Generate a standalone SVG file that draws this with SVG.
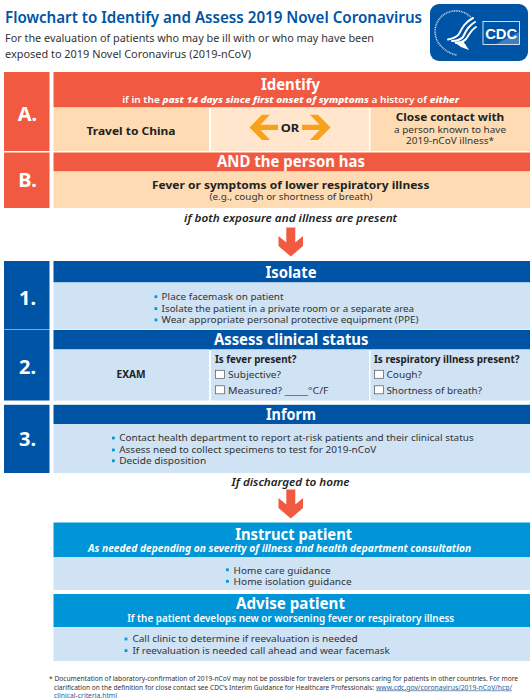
<svg xmlns="http://www.w3.org/2000/svg" width="530" height="699" viewBox="0 0 530 699">
<style>
text{font-family:"Noto Sans","Open Sans","Liberation Sans",sans-serif;fill:#333}
.m{text-anchor:middle}
.h{font-weight:700;fill:#fff;font-size:15.500px}
.l{font-weight:700;fill:#fff;font-size:20px;text-anchor:middle}
.b{font-size:9.200px}
.d{fill:#0099d8}
.red{fill:#f15a40}.blue{fill:#0054a6}.cy{fill:#0095d6}.lb{fill:#cfe3f4}.pe{fill:#fedbb2}.pl{fill:#ffe6cc}
.cb{fill:#fff;stroke:#555;stroke-width:.7}
.k{font-weight:700;fill:#222}
.or{fill:#f9a11b}
.w{stroke:#fff;fill:none;stroke-linecap:round}
</style>
<defs>
<path id="dn" class="red" d="M286.300 0H295.300V15L303 8.500V18.500L290.800 29L278.500 18.500V8.500L286.300 15Z"/>
</defs>
<g id="header">
<text x="5" y="23" font-size="16.300" font-weight="600" style="fill:#0054a6" textLength="417" lengthAdjust="spacingAndGlyphs">Flowchart to Identify and Assess 2019 Novel Coronavirus</text>
<text x="5" y="42" font-size="10.200" textLength="369" lengthAdjust="spacingAndGlyphs">For the evaluation of patients who may be ill with or who may have been</text>
<text x="5" y="58" font-size="10.200" textLength="246" lengthAdjust="spacingAndGlyphs">exposed to 2019 Novel Coronavirus (2019-nCoV)</text>
</g>
<g id="logo">
<rect x="430" y="4" width="98" height="57" rx="9" fill="#0054a6"/>
<path d="M470.500 17A20 20 0 0 0 441 46Q447 53 457 55" fill="none" stroke="#fff" stroke-width="1.600" stroke-dasharray="1 .7" opacity=".75"/>
<path class="w" stroke-width="2" d="M473 18C465 22 462 28 459 34Q456 38 448 39.500"/>
<path class="w" stroke-width="2" d="M475 22C468 26 466 31 463 37Q459 41 452 41"/>
<path class="w" stroke-width="2" d="M476 27C471 30 469 35 466 39Q462 43 456 43"/>
<path d="M454 42L463 41L469 50L461 47Z" fill="#fff"/>
<rect x="483" y="21.500" width="36.500" height="23" fill="none" stroke="#fff" stroke-width=".8"/>
<path d="M495 44.500L519.500 32V44.500Z" fill="#fff" opacity=".25"/>
<text x="501.200" y="38.500" class="m" font-size="15.500" font-weight="700" style="fill:#fff;font-family:'Liberation Sans',sans-serif" textLength="32" lengthAdjust="spacingAndGlyphs">CDC</text>
</g>
<g id="node-a">
<rect class="red" x="4" y="72" width="45.500" height="79"/>
<text class="l" x="27.500" y="120.500">A.</text>
<rect class="red" x="53.500" y="72" width="476.500" height="35.500"/>
<text class="h m" x="290.500" y="90" textLength="59" lengthAdjust="spacingAndGlyphs">Identify</text>
<text class="m" x="290.700" y="102.500" font-size="9.500" font-weight="600" style="fill:#fff" textLength="337" lengthAdjust="spacingAndGlyphs">if in the <tspan font-weight="800" font-style="italic">past 14 days since first onset of symptoms</tspan> a history of <tspan font-weight="800" font-style="italic">either</tspan></text>
<rect class="pe" x="53.500" y="107.500" width="155.500" height="43.500"/>
<rect class="pl" x="211" y="107.500" width="158" height="43.500"/>
<rect class="pe" x="370.500" y="107.500" width="159.500" height="43.500"/>
<text class="k m" x="131" y="134.800" font-size="10.800" textLength="89" lengthAdjust="spacingAndGlyphs">Travel to China</text>
<text class="k m" x="290" y="131.700" font-size="10.800" textLength="18.500" lengthAdjust="spacingAndGlyphs">OR</text>
<text class="k m" x="450" y="121" font-size="10.200" textLength="108.500" lengthAdjust="spacingAndGlyphs">Close contact with</text>
<text class="m" x="450" y="133" font-size="8.800" textLength="112" lengthAdjust="spacingAndGlyphs">a person known to have</text>
<text class="m" x="450" y="144.300" font-size="8.800" textLength="88" lengthAdjust="spacingAndGlyphs">2019-nCoV illness*</text>
</g>
<g id="node-b">
<rect class="red" x="4" y="152.500" width="45.500" height="55.500"/>
<text class="l" x="27.500" y="187.400">B.</text>
<rect class="red" x="53.500" y="152.500" width="476.500" height="19"/>
<text class="h m" x="291" y="167" textLength="148" lengthAdjust="spacingAndGlyphs">AND the person has</text>
<rect class="pe" x="53.500" y="171.500" width="476.500" height="36.500"/>
<text class="k m" x="290.700" y="188.500" font-size="10.200" textLength="277.500" lengthAdjust="spacingAndGlyphs">Fever or symptoms of lower respiratory illness</text>
<text class="m" x="291" y="200" font-size="8.800" textLength="163" lengthAdjust="spacingAndGlyphs">(e.g., cough or shortness of breath)</text>
</g>
<text id="cond-1" class="m" x="290.600" y="222.400" font-size="10.500" font-weight="600" font-style="italic" textLength="213" lengthAdjust="spacingAndGlyphs" style="fill:#222">if both exposure and illness are present</text>
<g id="node-1">
<rect class="blue" x="4" y="261" width="45.500" height="68.500"/>
<text class="l" x="27.500" y="304.600">1.</text>
<rect class="blue" x="53.500" y="261" width="476.500" height="21.500"/>
<text class="h m" x="291" y="278" textLength="51" lengthAdjust="spacingAndGlyphs">Isolate</text>
<rect class="lb" x="53.500" y="282.500" width="476.500" height="47"/>
<rect class="d" x="154.500" y="295.300" width="2.800" height="2.800"/><text class="b" x="161.600" y="300.200" textLength="122" lengthAdjust="spacingAndGlyphs">Place facemask on patient</text>
<rect class="d" x="154.500" y="307.200" width="2.800" height="2.800"/><text class="b" x="161.600" y="311.700" textLength="252.500" lengthAdjust="spacingAndGlyphs">Isolate the patient in a private room or a separate area</text>
<rect class="d" x="154.500" y="318.500" width="2.800" height="2.800"/><text class="b" x="161.600" y="323.300" textLength="257" lengthAdjust="spacingAndGlyphs">Wear appropriate personal protective equipment (PPE)</text>
</g>
<g id="node-2">
<rect class="blue" x="4" y="330" width="45.500" height="70.500"/>
<text class="l" x="27.500" y="374">2.</text>
<rect class="blue" x="53.500" y="330" width="476.500" height="19.500"/>
<text class="h m" x="291.200" y="345.400" textLength="154.500" lengthAdjust="spacingAndGlyphs">Assess clinical status</text>
<rect class="lb" x="53.500" y="349.500" width="155.500" height="51"/>
<rect class="lb" x="211" y="349.500" width="158" height="51"/>
<rect class="lb" x="370.500" y="349.500" width="159.500" height="51"/>
<text class="k m" x="131" y="378.300" font-size="9.800" textLength="29" lengthAdjust="spacingAndGlyphs">EXAM</text>
<text class="k" x="215" y="363" font-size="9.800" textLength="81.500" lengthAdjust="spacingAndGlyphs">Is fever present?</text>
<rect class="cb" x="215.500" y="370.300" width="9" height="8"/><text class="b" x="228" y="378.300" textLength="53" lengthAdjust="spacingAndGlyphs">Subjective?</text>
<rect class="cb" x="215.500" y="385.800" width="9" height="8"/><text class="b" x="228" y="394" textLength="100.500" lengthAdjust="spacingAndGlyphs">Measured? _____°C/F</text>
<text class="k" x="374" y="363" font-size="9.800" textLength="145.500" lengthAdjust="spacingAndGlyphs">Is respiratory illness present?</text>
<rect class="cb" x="374.500" y="370.300" width="9" height="8"/><text class="b" x="386.400" y="378.300" textLength="35.600" lengthAdjust="spacingAndGlyphs">Cough?</text>
<rect class="cb" x="374.500" y="385.800" width="9" height="8"/><text class="b" x="386.400" y="394" textLength="95.600" lengthAdjust="spacingAndGlyphs">Shortness of breath?</text>
</g>
<g id="node-3">
<rect class="blue" x="4" y="404.800" width="45.500" height="68.200"/>
<text class="l" x="27.500" y="445.500">3.</text>
<rect class="blue" x="53.500" y="404.800" width="476.500" height="19.200"/>
<text class="h m" x="291" y="420" textLength="50" lengthAdjust="spacingAndGlyphs">Inform</text>
<rect class="lb" x="53.500" y="424" width="476.500" height="49"/>
<rect class="d" x="112" y="436.600" width="2.800" height="2.800"/><text class="b" x="119.200" y="441" textLength="354.500" lengthAdjust="spacingAndGlyphs">Contact health department to report at-risk patients and their clinical status</text>
<rect class="d" x="112" y="448.600" width="2.800" height="2.800"/><text class="b" x="119.200" y="452.700" textLength="257" lengthAdjust="spacingAndGlyphs">Assess need to collect specimens to test for 2019-nCoV</text>
<rect class="d" x="112" y="459.400" width="2.800" height="2.800"/><text class="b" x="119.200" y="464.200" textLength="87" lengthAdjust="spacingAndGlyphs">Decide disposition</text>
</g>
<text id="cond-2" class="m" x="290.600" y="486" font-size="10.500" font-weight="600" font-style="italic" textLength="118" lengthAdjust="spacingAndGlyphs" style="fill:#222">If discharged to home</text>
<g id="node-instruct">
<rect class="cy" x="53.500" y="522.500" width="476.500" height="34.800"/>
<text class="h m" x="293.700" y="540" textLength="117" lengthAdjust="spacingAndGlyphs">Instruct patient</text>
<text class="m" x="279.600" y="552.400" font-size="9.800" font-weight="700" font-style="italic" style="fill:#fff" textLength="383" lengthAdjust="spacingAndGlyphs">As needed depending on severity of illness and health department consultation</text>
<rect class="lb" x="53.500" y="557.300" width="476.500" height="32.700"/>
<rect class="d" x="226" y="568.400" width="2.800" height="2.800"/><text class="b" x="233.600" y="573.500" textLength="97" lengthAdjust="spacingAndGlyphs">Home care guidance</text>
<rect class="d" x="226" y="579.900" width="2.800" height="2.800"/><text class="b" x="233.600" y="585" textLength="118" lengthAdjust="spacingAndGlyphs">Home isolation guidance</text>
</g>
<g id="node-advise">
<rect class="cy" x="53.500" y="594" width="476.500" height="33"/>
<text class="h m" x="290.500" y="609" textLength="109" lengthAdjust="spacingAndGlyphs">Advise patient</text>
<text class="m" x="290.700" y="622.400" font-size="9.800" font-weight="600" style="fill:#fff" textLength="327" lengthAdjust="spacingAndGlyphs">If the patient develops new or worsening fever or respiratory illness</text>
<rect class="lb" x="53.500" y="627" width="476.500" height="34"/>
<rect class="d" x="124.600" y="637.600" width="2.800" height="2.800"/><text class="b" x="132.400" y="642.400" textLength="225.200" lengthAdjust="spacingAndGlyphs">Call clinic to determine if reevaluation is needed</text>
<rect class="d" x="124.600" y="649.200" width="2.800" height="2.800"/><text class="b" x="132.400" y="654" textLength="257.400" lengthAdjust="spacingAndGlyphs">If reevaluation is needed call ahead and wear facemask</text>
</g>
<g id="footnote" font-size="6.500">
<text x="49" y="680.500" textLength="469" lengthAdjust="spacingAndGlyphs">* Documentation of laboratory-confirmation of 2019-nCoV may not be possible for travelers or persons caring for patients in other countries. For more</text>
<text x="54" y="689.500" textLength="320" lengthAdjust="spacingAndGlyphs">clarification on the definition for close contact see CDC’s Interim Guidance for Healthcare Professionals:</text>
<text x="376" y="689.500" textLength="136" lengthAdjust="spacingAndGlyphs" text-decoration="underline" style="fill:#2a5d9c">www.cdc.gov/coronavirus/2019-nCoV/hcp/</text>
<text x="54" y="698" textLength="63" lengthAdjust="spacingAndGlyphs" text-decoration="underline" style="fill:#2a5d9c">clinical-criteria.html</text>
</g>
<g id="connectors">
<use href="#dn" y="227.500"/>
<use href="#dn" y="489.500"/>
<path id="or-left" class="or" d="M249.500 127.400L262 114.800H270L260.500 124.800H278V130H260.500L270 140H262Z"/>
<path id="or-right" class="or" d="M330.500 127.400L318 114.800H310L319.500 124.800H302V130H319.500L310 140H318Z"/>
</g>
</svg>
